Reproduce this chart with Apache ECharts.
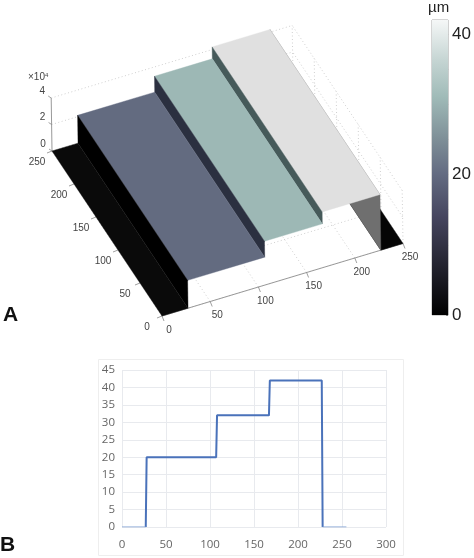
<!DOCTYPE html>
<html lang="en">
<head>
    <meta charset="UTF-8">
    <title>Step height profile</title>
    <script src="https://cdn.jsdelivr.net/npm/echarts@6/dist/echarts.min.js"></script>
    <style>
        html, body { margin: 0; padding: 0; background: #fff; }
        #main { width: 474px; height: 558px; }
    </style>
</head>
<body>
    <div id="main"></div>
    <script>
        // A: stepped surface, x edges of each level and height (x 10^4)
        const stepEdges = [0, 27, 107, 167, 227, 250]
        const stepHeights = [0, 2.1, 3.3, 4.2, 0]
        const plateColors = ['#0a0a0a', '#636b80', '#9db8b5', '#e0e0e0', '#050505']
        const wallColors = ['#000000', '#2b3040', '#465a5a', '#6f6f6f']
        const xyTicks = [0, 50, 100, 150, 200, 250]
        const zTicks = [0, 2, 4]

        // colorbar
        const barMax = 42
        const barLabels = [0, 20, 40]
        const barStops = [
            [0, '#000000'], [0.12, '#1a1a22'], [0.33, '#45455e'], [0.48, '#646c82'],
            [0.6, '#7f9098'], [0.74, '#a0bbb8'], [0.86, '#c4d4d2'], [1, '#f5f7f7']
        ]

        // B: profile
        const profileX = [0, 27, 28, 107, 108, 167, 168, 227, 228, 255]
        const profileY = [0, 0, 20, 20, 32, 32, 42, 42, 0, 0]

        function profilePart(from, to) {
            return profileX.slice(from, to).map((x, i) => [x, profileY[from + i]])
        }

        // simple fixed view projection of the 3D box onto the page
        function project(x, y, z) {
            return [
                162 + x * 241 / 250 - y * 110 / 250 - z * 0.2,
                316 - x * 72.5 / 250 - y * 165 / 250 - z * 13.25
            ]
        }

        function seg(a, b, style) {
            return { type: 'line', shape: { x1: a[0], y1: a[1], x2: b[0], y2: b[1] }, style: style }
        }

        function poly(points, fill) {
            return { type: 'polygon', shape: { points: points }, style: { fill: fill, stroke: fill, lineWidth: 0.4 } }
        }

        function label(p, dx, dy, text) {
            return {
                type: 'text',
                style: {
                    x: p[0] + dx, y: p[1] + dy, text: String(text), fill: '#444',
                    fontSize: 10, fontFamily: 'Liberation Sans', align: 'center', verticalAlign: 'middle'
                }
            }
        }

        // dotted grid and axes behind the surface
        function renderFrame() {
            const dot = { stroke: '#c4c4c4', lineWidth: 0.8, lineDash: [1, 2.5] }
            const axis = { stroke: '#999', lineWidth: 1 }
            const tick = { stroke: '#888', lineWidth: 0.8 }
            const els = []
            for (const t of xyTicks) {
                els.push(seg(project(t, 0, 0), project(t, 250, 0), dot))
                els.push(seg(project(0, t, 0), project(250, t, 0), dot))
                els.push(seg(project(250, t, 0), project(250, t, 4), dot))
            }
            for (const z of zTicks.slice(1)) {
                els.push(seg(project(0, 250, z), project(250, 250, z), dot))
                els.push(seg(project(250, 0, z), project(250, 250, z), dot))
            }
            els.push(seg(project(0, 250, 0), project(0, 250, 4), axis))
            els.push(seg(project(0, 0, 0), project(250, 0, 0), axis))
            for (const t of xyTicks) {
                const px = project(t, 0, 0)
                els.push(seg(px, [px[0] + 2, px[1] + 5], tick))
                els.push(label(px, 7, 14, t))
                const py = project(0, t, 0)
                els.push(seg(py, [py[0] - 5, py[1] + 2], tick))
                els.push(label(py, -15, 11, t))
            }
            for (const z of zTicks) {
                const p = project(0, 250, z)
                els.push(seg(p, [p[0] - 3, p[1] - 2], tick))
                els.push(label(p, -9, -7, z))
            }
            return { type: 'group', children: els }
        }

        // far levels first so the nearer ones cover them
        function renderStep(params) {
            const i = stepHeights.length - 1 - params.dataIndex
            const x0 = stepEdges[i], x1 = stepEdges[i + 1], h = stepHeights[i]
            const els = []
            if (i < wallColors.length) {
                const next = stepHeights[i + 1]
                els.push(poly([
                    project(x1, 0, h), project(x1, 250, h), project(x1, 250, next), project(x1, 0, next)
                ], wallColors[i]))
            }
            els.push(poly([
                project(x0, 0, h), project(x1, 0, h), project(x1, 250, h), project(x0, 250, h)
            ], plateColors[i]))
            return { type: 'group', children: els }
        }

        const chart = echarts.init(document.getElementById('main'))
        chart.setOption({
            animation: false,
            backgroundColor: '#fff',
            graphic: [
                { type: 'rect', shape: { x: 98.5, y: 359.5, width: 305, height: 196 }, style: { fill: 'none', stroke: '#eeeeee', lineWidth: 1 } },
                { type: 'text', x: 3, y: 305, style: { text: 'A', fontSize: 21, fontWeight: 'bold', fontFamily: 'Liberation Sans', fill: '#111' } },
                { type: 'text', x: 0, y: 535, style: { text: 'B', fontSize: 21, fontWeight: 'bold', fontFamily: 'Liberation Sans', fill: '#111' } },
                { type: 'text', x: 428, y: 0, style: { text: 'µm', fontSize: 15, fontFamily: 'Liberation Sans', fill: '#222' } },
                {
                    type: 'text', x: 28, y: 72,
                    style: {
                        text: '×10{s|4}', fontSize: 10, fontFamily: 'Liberation Sans', fill: '#444',
                        rich: { s: { fontSize: 6, verticalAlign: 'top', fill: '#444' } }
                    }
                }
            ],
            grid: [
                { left: 122, top: 370, width: 264, height: 157 },
                { left: 432, top: 20, width: 18, height: 295, show: true, borderColor: '#aaa', borderWidth: 1 }
            ],
            xAxis: [
                {
                    type: 'value', gridIndex: 0, min: 0, max: 300, interval: 50,
                    axisLine: { show: false }, axisTick: { show: false },
                    axisLabel: { color: '#666', fontSize: 11.5, fontFamily: 'Open Sans', margin: 12 },
                    splitLine: { lineStyle: { color: '#e8eaee', width: 1 } }
                },
                { type: 'category', gridIndex: 1, data: ['z'], show: false }
            ],
            yAxis: [
                {
                    type: 'value', gridIndex: 0, min: 0, max: 45, interval: 5,
                    axisLine: { show: false }, axisTick: { show: false },
                    axisLabel: { color: '#666', fontSize: 11.5, fontFamily: 'Open Sans', margin: 7 },
                    splitLine: { lineStyle: { color: '#e8eaee', width: 1 } }
                },
                {
                    type: 'value', gridIndex: 1, position: 'right', min: 0, max: barMax, interval: 5,
                    axisLine: { show: false },
                    axisTick: { show: true, inside: true, length: 2, lineStyle: { color: '#777' } },
                    splitLine: { show: false },
                    axisLabel: {
                        color: '#222', fontSize: 17, fontFamily: 'Liberation Sans', margin: 4,
                        showMaxLabel: false,
                        formatter: v => barLabels.includes(v) ? String(v) : ''
                    }
                }
            ],
            series: [
                {
                    type: 'custom', coordinateSystem: 'none', silent: true, z: 1,
                    data: [0], renderItem: renderFrame
                },
                {
                    type: 'custom', coordinateSystem: 'none', silent: true, z: 2,
                    data: stepHeights.map(h => h), renderItem: renderStep
                },
                {
                    type: 'bar', xAxisIndex: 1, yAxisIndex: 1, barWidth: '100%', silent: true,
                    data: [barMax],
                    itemStyle: {
                        color: new echarts.graphic.LinearGradient(0, 1, 0, 0,
                            barStops.map(s => ({ offset: s[0], color: s[1] })))
                    }
                },
                {
                    type: 'line', xAxisIndex: 0, yAxisIndex: 0, silent: true, symbol: 'none',
                    data: profilePart(1, 9),
                    lineStyle: { color: '#4a72ba', width: 2 }
                },
                // the zero runs sit on the plot edge and look thinner
                {
                    type: 'line', xAxisIndex: 0, yAxisIndex: 0, silent: true, symbol: 'none',
                    data: profilePart(0, 2),
                    lineStyle: { color: '#7f9fd4', width: 1.2 }
                },
                {
                    type: 'line', xAxisIndex: 0, yAxisIndex: 0, silent: true, symbol: 'none',
                    data: profilePart(8, 10),
                    lineStyle: { color: '#7f9fd4', width: 1.2 }
                }
            ]
        })
    </script>
</body>
</html>
